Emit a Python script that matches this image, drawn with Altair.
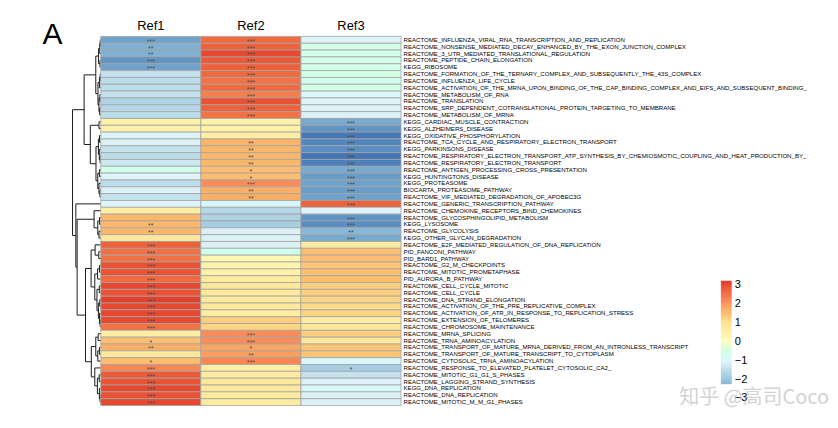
import altair as alt
import numpy as np
import pandas as pd

PATHWAYS = [
    "REACTOME_INFLUENZA_VIRAL_RNA_TRANSCRIPTION_AND_REPLICATION",
    "REACTOME_NONSENSE_MEDIATED_DECAY_ENHANCED_BY_THE_EXON_JUNCTION_COMPLEX",
    "REACTOME_3_UTR_MEDIATED_TRANSLATIONAL_REGULATION",
    "REACTOME_PEPTIDE_CHAIN_ELONGATION",
    "KEGG_RIBOSOME",
    "REACTOME_FORMATION_OF_THE_TERNARY_COMPLEX_AND_SUBSEQUENTLY_THE_43S_COMPLEX",
    "REACTOME_INFLUENZA_LIFE_CYCLE",
    "REACTOME_ACTIVATION_OF_THE_MRNA_UPON_BINDING_OF_THE_CAP_BINDING_COMPLEX_AND_EIFS_AND_SUBSEQUENT_BINDING_",
    "REACTOME_METABOLISM_OF_RNA",
    "REACTOME_TRANSLATION",
    "REACTOME_SRP_DEPENDENT_COTRANSLATIONAL_PROTEIN_TARGETING_TO_MEMBRANE",
    "REACTOME_METABOLISM_OF_MRNA",
    "KEGG_CARDIAC_MUSCLE_CONTRACTION",
    "KEGG_ALZHEIMERS_DISEASE",
    "KEGG_OXIDATIVE_PHOSPHORYLATION",
    "REACTOME_TCA_CYCLE_AND_RESPIRATORY_ELECTRON_TRANSPORT",
    "KEGG_PARKINSONS_DISEASE",
    "REACTOME_RESPIRATORY_ELECTRON_TRANSPORT_ATP_SYNTHESIS_BY_CHEMIOSMOTIC_COUPLING_AND_HEAT_PRODUCTION_BY_",
    "REACTOME_RESPIRATORY_ELECTRON_TRANSPORT",
    "REACTOME_ANTIGEN_PROCESSING_CROSS_PRESENTATION",
    "KEGG_HUNTINGTONS_DISEASE",
    "KEGG_PROTEASOME",
    "BIOCARTA_PROTEASOME_PATHWAY",
    "REACTOME_VIF_MEDIATED_DEGRADATION_OF_APOBEC3G",
    "REACTOME_GENERIC_TRANSCRIPTION_PATHWAY",
    "REACTOME_CHEMOKINE_RECEPTORS_BIND_CHEMOKINES",
    "REACTOME_GLYCOSPHINGOLIPID_METABOLISM",
    "KEGG_LYSOSOME",
    "REACTOME_GLYCOLYSIS",
    "KEGG_OTHER_GLYCAN_DEGRADATION",
    "REACTOME_E2F_MEDIATED_REGULATION_OF_DNA_REPLICATION",
    "PID_FANCONI_PATHWAY",
    "PID_BARD1_PATHWAY",
    "REACTOME_G2_M_CHECKPOINTS",
    "REACTOME_MITOTIC_PROMETAPHASE",
    "PID_AURORA_B_PATHWAY",
    "REACTOME_CELL_CYCLE_MITOTIC",
    "REACTOME_CELL_CYCLE",
    "REACTOME_DNA_STRAND_ELONGATION",
    "REACTOME_ACTIVATION_OF_THE_PRE_REPLICATIVE_COMPLEX",
    "REACTOME_ACTIVATION_OF_ATR_IN_RESPONSE_TO_REPLICATION_STRESS",
    "REACTOME_EXTENSION_OF_TELOMERES",
    "REACTOME_CHROMOSOME_MAINTENANCE",
    "REACTOME_MRNA_SPLICING",
    "REACTOME_TRNA_AMINOACYLATION",
    "REACTOME_TRANSPORT_OF_MATURE_MRNA_DERIVED_FROM_AN_INTRONLESS_TRANSCRIPT",
    "REACTOME_TRANSPORT_OF_MATURE_TRANSCRIPT_TO_CYTOPLASM",
    "REACTOME_CYTOSOLIC_TRNA_AMINOACYLATION",
    "REACTOME_RESPONSE_TO_ELEVATED_PLATELET_CYTOSOLIC_CA2_",
    "REACTOME_MITOTIC_G1_G1_S_PHASES",
    "REACTOME_LAGGING_STRAND_SYNTHESIS",
    "KEGG_DNA_REPLICATION",
    "REACTOME_DNA_REPLICATION",
    "REACTOME_MITOTIC_M_M_G1_PHASES",
]

SAMPLES = ["Ref1", "Ref2", "Ref3"]

REF1 = [-2.5, -2.3, -2.3, -2.7, -2.5, -1.4, -1.5, -1.5, -1.4, -1.7, -1.6, -1.5,
        0.5, 0.5, -1.0, -1.1, -1.4, -1.5, -1.3, -0.6, -1.0, -1.5, -1.1, -1.4,
        -1.0, 0.6, 1.6, 1.6, 1.6, 0.8,
        2.7, 2.5, 2.5, 2.9, 2.9, 2.6, 3.0, 2.9, 3.1, 3.0, 3.0, 3.0, 2.5,
        0.6, 1.5, 1.7, 0.8, 1.5, 2.2, 2.8, 2.9, 3.0, 2.9, 3.0]
REF2 = [2.6, 2.7, 3.0, 2.8, 2.7, 2.6, 2.5, 2.6, 2.3, 2.9, 2.7, 2.5,
        0.5, 0.5, 0.6, 1.65, 1.6, 1.6, 1.6, 1.5, 1.5, 2.1, 1.7, 1.7,
        -0.9, -1.6, -1.7, -1.8, -1.1, -1.1,
        -1.1, -0.6, 0.3, 0.4, 0.5, 0.7, 0.8, 0.8, 0.7, 0.8, 0.6, 1.3, 1.2,
        2.1, 2.1, 1.8, 1.9, 2.2, 0.6, 0.7, 0.8, 0.8, 0.7, 0.7]
REF3 = [-1.0, -0.5, -0.6, -0.6, -0.5, -0.5, -0.6, -0.5, -0.9, -1.0, -1.0, -1.1,
        -2.4, -2.7, -3.1, -2.9, -2.8, -3.15, -3.0, -2.4, -2.6, -2.5, -2.6, -2.5,
        2.7, -1.0, -2.7, -2.8, -2.2, -2.4,
        0.7, 1.5, 1.5, 1.4, 1.5, 1.5, 1.3, 1.3, 1.2, 1.1, 1.2, 0.6, 0.8,
        1.3, 0.8, 1.4, 1.4, -0.9, -1.8, -1.4, -1.1, -0.9, -1.1, -1.1]

SIG1 = ["***", "**", "**", "***", "***", "", "", "", "", "", "", "",
        "", "", "", "", "", "", "", "", "", "", "", "",
        "", "", "", "**", "**", "",
        "***", "***", "***", "***", "***", "***", "***", "***", "***", "***", "***", "***", "***",
        "", "*", "**", "", "*", "***", "***", "***", "***", "***", "***"]
SIG2 = ["***"] * 12 + ["", "", "", "**", "**", "**", "**", "*", "*", "***", "**", "**"] + \
       [""] * 19 + ["***", "***", "*", "**", "***"] + [""] * 6
SIG3 = [""] * 12 + ["***"] * 13 + ["", "***", "***", "**", "***"] + [""] * 18 + ["*"] + [""] * 5

# dendrogram: [merge height, left, right]; leaves are 1-based row numbers
TREE = [28.3,
        [16.7,
         [5.0,
          [2.2, [1.0, [0.5, 1, 2], 3], [0.8, 4, 5]],
          [2.8, [1.4, [0.6, 6, 7], 8], [1.8, [0.9, 9, 10], [1.1, 11, 12]]]],
         [10.5,
          [1.8, 13, 14],
          [4.8,
           [2.4, [1.2, 15, 16], [1.5, 17, [0.7, 18, 19]]],
           [3.0, [1.4, 20, 21], [1.8, 22, [0.8, 23, 24]]]]]],
        [25.0,
         25,
         [23.7,
          [6.7, 26, [3.0, [1.2, 27, 28], [1.8, 29, 30]]],
          [15.3,
           [9.7,
            [5.7, 31, [2.0, 32, 33]],
            [6.0, [3.2, [1.2, 34, 35], 36],
             [3.8, [1.5, 37, 38], [2.4, [1.0, 39, 40], [1.3, 41, [0.6, 42, 43]]]]]],
           [9.5,
            [5.0, [2.6, 44, 45], [3.0, [1.4, 46, 47], 48]],
            [6.0, 49, [3.4, [1.6, 50, 51], [1.4, 52, [0.7, 53, 54]]]]]]]]]

LEGEND_TICKS = [3, 2, 1, 0, -1, -2, -3]
PALETTE = ["#4575B4", "#91BFDB", "#E0F3F8", "#FFFFBF", "#FEE090", "#FC8D59", "#E23A2A"]
PAL_DOMAIN = [-3.15, -2.1, -1.05, 0, 1.05, 2.1, 3.15]
WATERMARK = "知乎 @高司Coco"

FONT = "Liberation Sans"
color_scale = alt.Scale(domain=PAL_DOMAIN, range=PALETTE, clamp=True)

# ---------------- heatmap ----------------
rows = []
for i, p in enumerate(PATHWAYS):
    for s, vals, sig in zip(SAMPLES, [REF1, REF2, REF3], [SIG1, SIG2, SIG3]):
        rows.append({"pathway": p, "sample": s, "value": vals[i], "sig": sig[i]})
heat_df = pd.DataFrame(rows)

xenc = alt.X("sample:N", sort=SAMPLES,
             scale=alt.Scale(paddingInner=0, paddingOuter=0),
             axis=alt.Axis(orient="top", title=None, labelAngle=0, ticks=False, domain=False,
                           labelFontSize=13, labelFont=FONT, labelPadding=4, labelColor="black"))
yenc = alt.Y("pathway:N", sort=PATHWAYS,
             scale=alt.Scale(paddingInner=0, paddingOuter=0),
             axis=alt.Axis(orient="right", title=None, ticks=False, domain=False,
                           labelFontSize=6.1, labelLimit=0, labelPadding=2, labelFont=FONT,
                           labelColor="black"))

base = alt.Chart(heat_df)
cells = base.mark_rect(stroke="#a3a3a3", strokeWidth=0.8).encode(
    x=xenc, y=yenc, color=alt.Color("value:Q", scale=color_scale, legend=None))
stars = base.mark_text(fontSize=7, color="#4d4d4d", dy=2, font=FONT).encode(
    x=alt.X("sample:N", sort=SAMPLES), y=alt.Y("pathway:N", sort=PATHWAYS), text="sig:N")
heat = alt.layer(cells, stars).properties(width=301, height=370)

# ---------------- dendrogram ----------------
segs = []


def walk(node):
    """return (height, y) of node and append its segments"""
    if isinstance(node, int):
        return 0.0, float(node)
    h, left, right = node
    hl, yl = walk(left)
    hr, yr = walk(right)
    segs.append({"x": h, "x2": h, "y": yl, "y2": yr})
    segs.append({"x": hl, "x2": h, "y": yl, "y2": yl})
    segs.append({"x": hr, "x2": h, "y": yr, "y2": yr})
    return h, (yl + yr) / 2


walk(TREE)
seg_df = pd.DataFrame(segs)

dend = alt.Chart(seg_df).mark_rule(color="#1a1a1a", strokeWidth=1).encode(
    x=alt.X("x:Q", scale=alt.Scale(domain=[0, 61], reverse=True, nice=False, zero=False), axis=None),
    x2="x2:Q",
    y=alt.Y("y:Q", scale=alt.Scale(domain=[0.5, 54.5], reverse=True, nice=False, zero=False), axis=None),
    y2="y2:Q",
)
panel_label = alt.Chart(pd.DataFrame({"t": ["A"]})).mark_text(
    fontSize=30, font=FONT, align="center", baseline="middle", color="black"
).encode(text="t:N", x=alt.value(12.5), y=alt.value(-1))
dendro_panel = alt.layer(dend, panel_label).properties(width=61, height=370)

# ---------------- colour legend (panel spans from heatmap edge to bar) ----------------
lv = np.linspace(-2.25, 3.2, 110)
leg_df = pd.DataFrame({"v": lv[:-1], "v2": lv[1:], "c": (lv[:-1] + lv[1:]) / 2})
LEG_W = 331
legbar = alt.Chart(leg_df).mark_rect(strokeWidth=0.6).encode(
    y=alt.Y("v:Q", scale=alt.Scale(domain=[-3.40, 16.17], nice=False, zero=False),
            axis=alt.Axis(orient="right", values=LEGEND_TICKS, ticks=False, domain=False, grid=False,
                          labelFontSize=11, labelPadding=3, title=None, labelFont=FONT,
                          labelColor="black")),
    y2="v2:Q",
    x=alt.value(LEG_W - 10), x2=alt.value(LEG_W),
    color=alt.Color("c:Q", scale=color_scale, legend=None),
    stroke=alt.Stroke("c:Q", scale=color_scale, legend=None),
)
wm = alt.Chart(pd.DataFrame({"t": [WATERMARK]})).mark_text(
    fontSize=20, font="Noto Sans CJK SC", align="left", baseline="middle",
    color="#a8a8a8", opacity=0.5
).encode(text="t:N", x=alt.value(LEG_W - 52), y=alt.value(362))
legend_panel = alt.layer(legbar, wm).properties(width=LEG_W, height=370)

chart = alt.hconcat(dendro_panel, heat, legend_panel, spacing=0, bounds="flush").properties(
    padding={"left": 32, "top": 11, "right": 0, "bottom": 0}
).configure_view(stroke=None)

chart.save("out.html", embed_options={"renderer": "svg", "actions": False})
